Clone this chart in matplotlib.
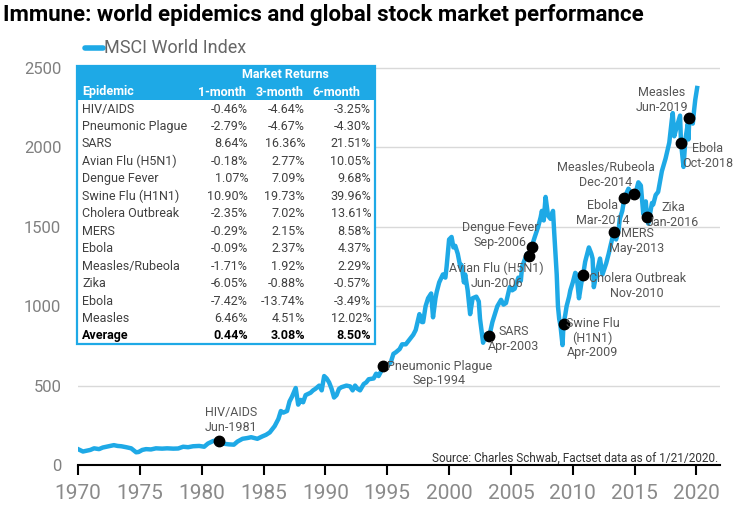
import matplotlib
matplotlib.use("Agg")
import matplotlib.pyplot as plt
from matplotlib.patches import Rectangle

# MSCI World Index (decimal year, index level)
years = [1970.0, 1970.4, 1970.8, 1971.0, 1971.3, 1971.7, 1972.0, 1972.5, 1972.9, 1973.2,
         1973.5, 1973.9, 1974.3, 1974.7, 1974.9, 1975.2, 1975.5, 1975.9, 1976.3, 1976.8,
         1977.2, 1977.7, 1978.1, 1978.5, 1978.9, 1979.3, 1979.8, 1980.2, 1980.5, 1980.9,
         1981.2, 1981.42, 1981.7, 1982.2, 1982.6, 1982.9, 1983.3, 1983.7, 1984.0, 1984.5,
         1984.9, 1985.2, 1985.5, 1985.9, 1986.2, 1986.4, 1986.6, 1986.9, 1987.1, 1987.3,
         1987.6, 1987.8, 1988.0, 1988.2, 1988.4, 1988.8, 1989.0, 1989.2, 1989.5, 1989.7,
         1989.9, 1990.1, 1990.3, 1990.5, 1990.7, 1990.9, 1991.1, 1991.3, 1991.7, 1992.0,
         1992.2, 1992.4, 1992.6, 1992.8, 1993.1, 1993.3, 1993.5, 1993.9, 1994.1, 1994.3,
         1994.5, 1994.67, 1994.9, 1995.1, 1995.3, 1995.5, 1995.7, 1996.0, 1996.2, 1996.5,
         1996.7, 1996.9, 1997.1, 1997.3, 1997.6, 1997.8, 1997.9, 1998.1, 1998.3, 1998.55,
         1998.7, 1998.9, 1999.0, 1999.2, 1999.5, 1999.7, 1999.8, 2000.0, 2000.2, 2000.35,
         2000.5, 2000.7, 2000.9, 2001.0, 2001.2, 2001.3, 2001.5, 2001.7, 2001.9, 2002.2,
         2002.4, 2002.5, 2002.75, 2002.9, 2003.1, 2003.25, 2003.5, 2003.7, 2003.9, 2004.2,
         2004.4, 2004.6, 2004.9, 2005.1, 2005.3, 2005.6, 2005.8, 2005.9, 2006.3, 2006.42,
         2006.67, 2006.9, 2007.2, 2007.4, 2007.5, 2007.65, 2007.8, 2008.0, 2008.2, 2008.4,
         2008.5, 2008.7, 2008.8, 2008.9, 2009.0, 2009.17, 2009.25, 2009.4, 2009.5, 2009.7,
         2009.8, 2010.0, 2010.2, 2010.3, 2010.5, 2010.7, 2010.83, 2011.0, 2011.3, 2011.5,
         2011.6, 2011.7, 2011.9, 2012.2, 2012.4, 2012.7, 2012.9, 2013.2, 2013.33, 2013.5,
         2013.7, 2013.8, 2014.0, 2014.17, 2014.5, 2014.8, 2014.92, 2015.1, 2015.3, 2015.5,
         2015.7, 2015.9, 2016.0, 2016.1, 2016.4, 2016.5, 2016.7, 2016.9, 2017.2, 2017.5,
         2017.8, 2018.0, 2018.08, 2018.2, 2018.3, 2018.6, 2018.67, 2018.75, 2018.95, 2019.1,
         2019.3, 2019.35, 2019.42, 2019.6, 2019.7, 2019.8, 2019.9, 2020.05]
msci = [100, 85, 92, 95, 105, 100, 110, 118, 125, 120,
        118, 112, 105, 80, 82, 95, 100, 98, 105, 103,
        105, 103, 104, 115, 112, 118, 120, 115, 135, 150,
        155, 151, 135, 130, 128, 148, 165, 170, 175, 165,
        180, 190, 205, 245, 290, 340, 330, 340, 400, 430,
        485, 380, 410, 395, 440, 455, 470, 480, 500, 470,
        560, 545, 520, 480, 425, 440, 480, 490, 500, 495,
        470, 500, 480, 470, 510, 520, 540, 545, 575, 560,
        590, 623, 610, 630, 650, 700, 710, 730, 760, 760,
        780, 800, 820, 850, 950, 900, 900, 1000, 1050, 1080,
        930, 1050, 1090, 1150, 1200, 1180, 1250, 1420, 1436, 1370,
        1380, 1330, 1250, 1260, 1150, 1200, 1100, 950, 1050, 1060,
        1030, 920, 770, 820, 790, 812, 900, 950, 1000, 1040,
        1010, 1020, 1120, 1100, 1110, 1180, 1160, 1250, 1330, 1316,
        1373, 1430, 1500, 1560, 1600, 1540, 1688, 1570, 1550, 1600,
        1460, 1200, 1000, 920, 880, 755, 888, 950, 1000, 1060,
        1100, 1150, 1210, 1200, 1050, 1150, 1196, 1280, 1370, 1330,
        1300, 1120, 1200, 1300, 1200, 1270, 1330, 1430, 1467, 1420,
        1480, 1550, 1600, 1681, 1740, 1700, 1706, 1720, 1780, 1760,
        1580, 1660, 1562, 1520, 1650, 1640, 1700, 1720, 1850, 1930,
        2030, 2170, 2216, 2070, 2100, 2180, 2200, 2028, 1877, 2050,
        2150, 2050, 2185, 2180, 2150, 2230, 2300, 2374]

# epidemic markers
event_names = ["HIV/AIDS", "Pneumonic Plague", "SARS", "Avian Flu (H5N1)", "Dengue Fever",
               "Swine Flu\n(H1N1)", "Cholera Outbreak", "MERS", "Ebola", "Measles/Rubeola",
               "Zika", "Ebola", "Measles"]
event_dates = ["Jun-1981", "Sep-1994", "Apr-2003", "Jun-2006", "Sep-2006", "Apr-2009",
               "Nov-2010", "May-2013", "Mar-2014", "Dec-2014", "Jan-2016", "Oct-2018",
               "Jun-2019"]
event_years = [1981.42, 1994.67, 2003.25, 2006.42, 2006.67, 2009.25, 2010.83, 2013.33,
               2014.17, 2014.92, 2016.0, 2018.75, 2019.42]
event_values = [151, 623, 812, 1316, 1373, 888, 1196, 1467, 1681, 1706, 1562, 2028, 2185]
# label centres (year, level)
label_pos = [(1982.4, 283), (1999.2, 576), (2005.2, 793), (2003.85, 1190), (2004.1, 1448),
             (2011.6, 800), (2015.2, 1127), (2015.2, 1411), (2012.4, 1587), (2012.65, 1826),
             (2018.1, 1574), (2020.9, 1946), (2017.2, 2298)]

# table
table_epidemics = ["HIV/AIDS", "Pneumonic Plague", "SARS", "Avian Flu (H5N1)", "Dengue Fever",
                   "Swine Flu (H1N1)", "Cholera Outbreak", "MERS", "Ebola", "Measles/Rubeola",
                   "Zika", "Ebola", "Measles", "Average"]
ret_1m = [-0.46, -2.79, 8.64, -0.18, 1.07, 10.90, -2.35, -0.29, -0.09, -1.71, -6.05, -7.42, 6.46, 0.44]
ret_3m = [-4.64, -4.67, 16.36, 2.77, 7.09, 19.73, 7.02, 2.15, 2.37, 1.92, -0.88, -13.74, 4.51, 3.08]
ret_6m = [-3.25, -4.30, 21.51, 10.05, 9.68, 39.96, 13.61, 8.58, 4.37, 2.29, -0.57, -3.49, 12.02, 8.50]

x_ticks = [1970, 1975, 1980, 1985, 1990, 1995, 2000, 2005, 2010, 2015, 2020]
y_ticks = [0, 500, 1000, 1500, 2000, 2500]

BLUE = "#1ea9e6"
W, H = 746, 508

fig = plt.figure(figsize=(W / 100, H / 100), dpi=100)
ax = fig.add_axes([78 / W, 1 - 465 / H, 642 / W, (465 - 66.4) / H])


def px(x, y):
    # pixel position -> figure fraction
    return x / W, 1 - y / H


ax.plot(years, msci, color=BLUE, lw=3.2, solid_joinstyle="round", zorder=3)
ax.plot(event_years, event_values, "o", color="black", ms=7.5, zorder=4)

for name, dt, (lx, ly) in zip(event_names, event_dates, label_pos):
    ax.text(lx, ly, name + "\n" + dt, ha="center", va="center", fontsize=9,
            family="Roboto", color="#555555", linespacing=1.15, zorder=5)

ax.set_xlim(1970, 2021.9)
ax.set_ylim(0, 2510)
ax.set_xticks(x_ticks)
ax.set_yticks(y_ticks)
ax.grid(axis="y", color="#d9d9d9", lw=1)
ax.set_axisbelow(True)
for s in ["top", "right", "left"]:
    ax.spines[s].set_visible(False)
ax.spines["bottom"].set_linewidth(1.5)
ax.tick_params(axis="x", length=7, width=1.5, direction="out", pad=7,
               labelsize=15, labelcolor="#8a8a8a")
ax.tick_params(axis="y", length=0, pad=12, labelsize=12, labelcolor="#808080")
for lab in ax.get_xticklabels() + ax.get_yticklabels():
    lab.set_family("Roboto")

# title, legend, source
fig.text(*px(3, 15), "Immune: world epidemics and global stock market performance",
         fontsize=16, fontweight="bold", family="Roboto",
         va="center", ha="left", color="black")
fig.add_artist(plt.Line2D([85 / W, 103 / W], [1 - 48 / H] * 2, color=BLUE, lw=4,
                          solid_capstyle="round"))
fig.text(*px(104, 48), "MSCI World Index", fontsize=13, family="Roboto",
         color="#666666", va="center", ha="left")
fig.text(*px(718, 458), "Source: Charles Schwab, Factset data as of 1/21/2020.",
         fontsize=8.5, family="Roboto", color="#333333", ha="right", va="center")

# returns table
fig.add_artist(Rectangle(px(77, 100), 298 / W, 34 / H, transform=fig.transFigure,
                         facecolor=BLUE, edgecolor="none", zorder=6))
fig.add_artist(Rectangle(px(77, 344), 298 / W, 278 / H, transform=fig.transFigure,
                         facecolor="white", edgecolor=BLUE, lw=1.6, zorder=5))
fig.text(*px(285, 75), "Market Returns", fontsize=9, fontweight="bold", family="Roboto",
         color="white", ha="center", va="center", zorder=7)
fig.text(*px(82, 92), "Epidemic", fontsize=9, fontweight="bold", family="Roboto",
         color="white", ha="left", va="center", zorder=7)
for col, xr in zip(["1-month", "3-month", "6-month"], [246, 303, 360]):
    fig.text(*px(xr, 92), col, fontsize=9, fontweight="bold", family="Roboto",
             color="white", ha="right", va="center", zorder=7)
for i, name in enumerate(table_epidemics):
    y = 109 + i * 17.46
    bold = "bold" if name == "Average" else "normal"
    color = "black" if name == "Average" else "#404040"
    fig.text(*px(82, y), name, fontsize=9, fontweight=bold, family="Roboto",
             color=color, ha="left", va="center", zorder=7)
    for vals, xr in zip([ret_1m, ret_3m, ret_6m], [248, 305, 371]):
        fig.text(*px(xr, y), f"{vals[i]:.2f}%", fontsize=9, fontweight=bold,
                 family="Roboto", color=color, ha="right", va="center", zorder=7)

fig.savefig("out.png", dpi=100)
